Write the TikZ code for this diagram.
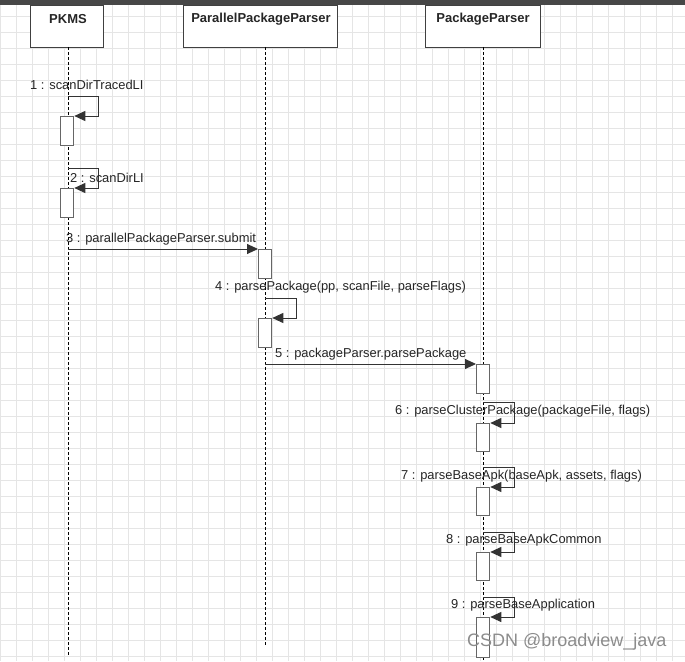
\documentclass[tikz,border=0pt]{standalone}
\usepackage{fontspec}
\setmainfont{Liberation Sans}
\usetikzlibrary{arrows.meta}
\begin{document}
\begin{tikzpicture}[x=1pt,y=-1pt,
  life/.style={draw=black!75,line width=1.3pt,fill=white,minimum height=42pt,anchor=north west,inner sep=0pt},
  head/.style={font=\bfseries\fontsize{13}{15}\selectfont,text=black!85},
  act/.style={draw=black!60,line width=1.3pt,fill=white,anchor=north west,minimum width=13pt,inner sep=0pt},
  msg/.style={draw=black!80,line width=0.9pt,-{Triangle[length=11pt,width=10pt]}},
  lab/.style={font=\fontsize{12.9}{14}\selectfont,text=black!85,inner sep=0pt,anchor=west},
  lline/.style={black,line width=0.8pt,dash pattern=on 3pt off 2pt}]
\useasboundingbox (0,0) rectangle (685,661);
\fill[white] (0,0) rectangle (685,661);
\foreach \i in {0,16,...,685} \draw[black!10,line width=0.5pt] (\i,0) -- (\i,661);
\foreach \i in {0,16,...,661} \draw[black!10,line width=0.5pt] (0,\i) -- (685,\i);
\fill[black!72] (0,0) rectangle (685,5);
% lifeline heads
\node[life,minimum width=73pt] (pk) at (30,5) {};
\node[head] at (68,19) {PKMS};
\node[life,minimum width=154pt] (pp) at (183,5) {};
\node[head] at (261,19) {ParallelPackageParser};
\node[life,minimum width=115pt] (pa) at (425,5) {};
\node[head] at (483,19) {PackageParser};
\coordinate (pkE) at (68,655); \coordinate (ppE) at (265,645); \coordinate (paE) at (483,661);
\draw[lline] (68,47) -- (pkE);
\draw[lline] (265,47) -- (ppE);
\draw[lline] (483,47) -- (paE);
% activations
\node[act,minimum height=29pt] (a1) at (60,116) {};
\node[act,minimum height=29pt] (a2) at (60,188) {};
\node[act,minimum height=29pt] (a3) at (258,249) {};
\node[act,minimum height=29pt] (a4) at (258,318) {};
\node[act,minimum height=29pt] (a5) at (476,364) {};
\node[act,minimum height=28pt] (a6) at (476,423) {};
\node[act,minimum height=28pt] (a7) at (476,487) {};
\node[act,minimum height=28pt] (a8) at (476,552) {};
\node[act,minimum height=40pt] (a9) at (476,617) {};
% messages
\draw[msg] (68,96) -- (98,96) -- (98,116) -- (a1.north east);
\node[lab] at (30,85) {1 : scanDirTracedLI};
\draw[msg] (68,168) -- (98,168) -- (98,188) -- (a2.north east);
\node[lab] at (70,178) {2 : scanDirLI};
\draw[msg] (68,249) -- (a3.north west);
\node[lab] at (66,239) {3 : parallelPackageParser.submit};
\draw[msg] (265,298) -- (296,298) -- (296,318) -- (a4.north east);
\node[lab] at (215,287) {4 : parsePackage(pp, scanFile, parseFlags)};
\draw[msg] (265,364) -- (a5.north west);
\node[lab] at (275,354) {5 : packageParser.parsePackage};
\draw[msg] (483,402) -- (514,402) -- (514,423) -- (a6.north east);
\node[lab] at (395,411) {6 : parseClusterPackage(packageFile, flags)};
\draw[msg] (483,467) -- (514,467) -- (514,487) -- (a7.north east);
\node[lab] at (401,476) {7 : parseBaseApk(baseApk, assets, flags)};
\draw[msg] (483,532) -- (514,532) -- (514,552) -- (a8.north east);
\node[lab] at (446,540) {8 : parseBaseApkCommon};
\draw[msg] (483,597) -- (514,597) -- (514,617) -- (a9.north east);
\node[lab] at (451,605) {9 : parseBaseApplication};
\node[font=\fontsize{18}{20}\selectfont,text=black!45,anchor=west,inner sep=0pt] at (467,642) {CSDN @broadview\_java};
\end{tikzpicture}
\end{document}
